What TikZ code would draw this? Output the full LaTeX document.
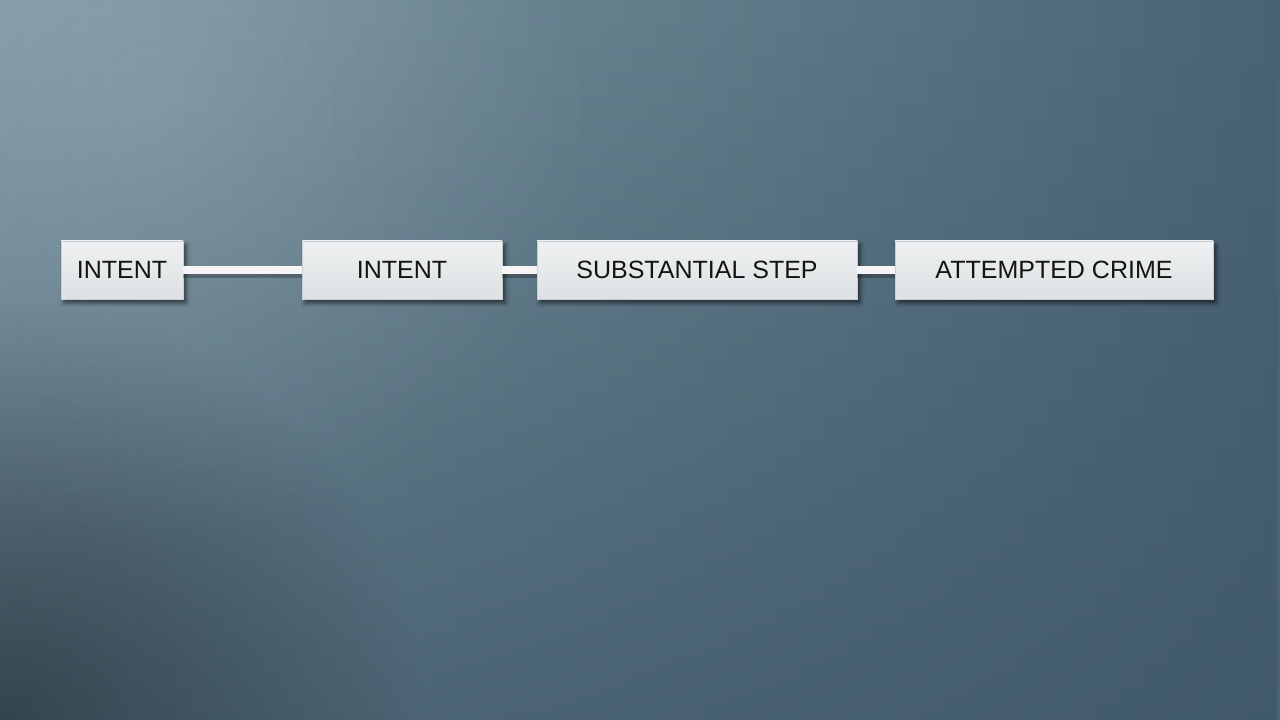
\documentclass[tikz,border=0pt]{standalone}
\usepackage{fontspec}
\setmainfont{Liberation Sans}
\usetikzlibrary{shadows.blur,fadings}
\tikzfading[name=softspot, inner color=transparent!0, outer color=transparent!100]
\definecolor{bgA}{RGB}{126,152,164}
\definecolor{bgB}{RGB}{74,100,116}
\definecolor{bgC}{RGB}{62,86,102}
\definecolor{boxtop}{RGB}{238,240,241}
\definecolor{boxbot}{RGB}{222,225,227}
\definecolor{boxedge}{RGB}{200,206,210}
\definecolor{txt}{RGB}{18,20,22}
\tikzset{
  card/.style={draw=boxedge, line width=0.8pt, top color=boxtop, bottom color=boxbot, minimum height=58pt, inner sep=0pt,
    font=\fontsize{25}{28}\selectfont, text=txt,
    blur shadow={shadow xshift=3pt, shadow yshift=-4pt, shadow blur radius=4pt, shadow opacity=60}},
  bar/.style={line width=8pt, draw=white!92!gray},
  barshadow/.style={line width=8pt, draw=black, opacity=0.25}
}
\begin{document}
\begin{tikzpicture}[x=1pt,y=1pt]
\useasboundingbox (0,0) rectangle (1280,720);
\shade[left color=bgA, right color=bgB] (0,0) rectangle (1280,720);
\fill[bgC, path fading=north, opacity=0.7] (0,0) rectangle (1280,720);
\fill[black, opacity=0.35, path fading=softspot] (0,0) circle (420);
\fill[white, opacity=0.12, path fading=softspot] (150,620) circle (450);
\node[card, minimum width=122pt] (n1) at (122,450) {INTENT};
\node[card, minimum width=200pt] (n2) at (402,450) {INTENT};
\node[card, minimum width=320pt] (n3) at (697,450) {SUBSTANTIAL STEP};
\node[card, minimum width=318pt] (n4) at (1054,450) {ATTEMPTED CRIME};
\draw[barshadow] ([yshift=-4pt]n1.east) -- ([yshift=-4pt]n2.west);
\draw[bar] (n1.east) -- (n2.west);
\draw[barshadow] ([yshift=-4pt]n2.east) -- ([yshift=-4pt]n3.west);
\draw[bar] (n2.east) -- (n3.west);
\draw[barshadow] ([yshift=-4pt]n3.east) -- ([yshift=-4pt]n4.west);
\draw[bar] (n3.east) -- (n4.west);
\end{tikzpicture}
\end{document}
